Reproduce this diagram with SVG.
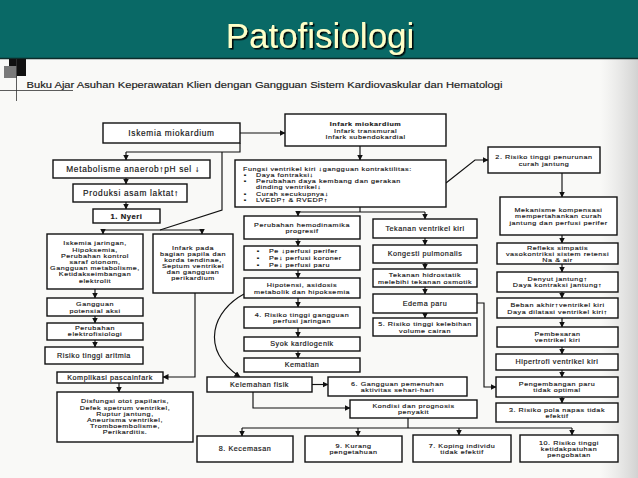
<svg xmlns="http://www.w3.org/2000/svg" width="638" height="478" viewBox="0 0 638 478">
<defs>
<style>
.box{fill:#fff;stroke:#111;stroke-width:1.4}
.t{font-family:'Liberation Sans',Arial,'DejaVu Sans',sans-serif;font-size:7.2px;letter-spacing:0.55px;fill:#161616;stroke:#161616;stroke-width:0.18;text-anchor:middle}
.tl{text-anchor:start}
.big{font-size:8.3px;letter-spacing:0.7px}
.b{font-weight:bold}
.ar{font-weight:bold}
.c{fill:none;stroke:#111;stroke-width:1.15}
.a{fill:none;stroke:#111;stroke-width:1.15;marker-end:url(#ah)}
</style>
<marker id="ah" markerUnits="userSpaceOnUse" markerWidth="6" markerHeight="6" refX="5.5" refY="3" orient="auto">
<path d="M0,0 L6,3 L0,6 z" fill="#111"/>
</marker>
<filter id="sh" x="-10%" y="-10%" width="120%" height="130%">
<feDropShadow dx="1.6" dy="1.6" stdDeviation="0.4" flood-color="#000" flood-opacity="0.9"/>
</filter>
<linearGradient id="edge" x1="0" y1="0" x2="1" y2="0">
<stop offset="0" stop-color="#d8d8d8" stop-opacity="0"/>
<stop offset="1" stop-color="#c8c8c8" stop-opacity="0.8"/>
</linearGradient>
</defs>

<rect x="0" y="0" width="638" height="478" fill="#f9f9f7"/>
<rect x="600" y="58" width="38" height="420" fill="url(#edge)"/>

<!-- header -->
<g id="header">
<rect x="0" y="0" width="638" height="58" fill="#096966"/>
<line x1="0" y1="58.5" x2="638" y2="58.5" stroke="#0e2c2b" stroke-width="1.5"/>
<text x="320" y="48" font-family="'Liberation Sans',Arial,sans-serif" font-size="35" fill="#ffffc8" text-anchor="middle" filter="url(#sh)">Patofisiologi</text>
<rect x="9" y="59" width="17" height="17" fill="#111"/>
<rect x="4" y="66" width="13" height="12" fill="#7a7a7a"/>
<line x1="16.5" y1="59" x2="16.5" y2="101" stroke="#333" stroke-width="0.8"/>
<line x1="0" y1="90.5" x2="73" y2="90.5" stroke="#333" stroke-width="0.8"/>
<text x="26.5" y="87.5" font-family="'Liberation Sans',Arial,sans-serif" font-size="8.5" fill="#1a1a1a" stroke="#1a1a1a" stroke-width="0.15" textLength="476" lengthAdjust="spacingAndGlyphs">Buku Ajar Asuhan Keperawatan Klien dengan Gangguan Sistem Kardiovaskular dan Hematologi</text>
</g>

<!-- connectors -->
<g id="connectors">
<path class="a" d="M240,133 L285,133"/>
<path class="c" d="M240,143 L240,152 L126,152"/>
<path class="a" d="M126,152 L126,160"/>
<path class="c" d="M222,152 L222,210 L160,230"/>
<path class="c" d="M103,230 L202,230"/>
<path class="a" d="M103,230 L103,234"/>
<path class="a" d="M202,230 L202,234"/>
<path class="a" d="M126,178 L126,184"/>
<path class="a" d="M126,202 L126,209"/>
<path class="a" d="M360,146 L360,160"/>
<path class="a" d="M446,183 L475,160 L488,160"/>
<path class="c" d="M360,207 L360,212"/>
<path class="c" d="M298,212 L425,212"/>
<path class="a" d="M298,212 L298,216"/>
<path class="a" d="M425,212 L425,219"/>
<path class="a" d="M562,173 L562,197"/>
<path class="a" d="M562,235 L562,243"/>
<path class="a" d="M562,264 L562,272"/>
<path class="a" d="M562,292 L562,298"/>
<path class="a" d="M562,318 L562,327"/>
<path class="a" d="M562,347 L562,354"/>
<path class="a" d="M562,370 L562,377"/>
<path class="a" d="M562,397 L562,403"/>
<path class="a" d="M477,303 L484,303 L484,387 L496,387"/>
<path class="a" d="M425,238 L425,245"/>
<path class="a" d="M425,263 L425,269"/>
<path class="a" d="M425,287 L425,294"/>
<path class="a" d="M425,313 L425,318"/>
<path class="a" d="M298,239 L298,246"/>
<path class="a" d="M298,270 L298,278"/>
<path class="a" d="M298,298 L298,307"/>
<path class="a" d="M298,328 L298,337"/>
<path class="a" d="M298,351 L298,358"/>
<path class="a" d="M244,294 C214,310 198,348 240,377"/>
<path class="a" d="M195,293 L195,377 L163,377"/>
<path class="a" d="M119,383 L119,392"/>
<path class="a" d="M95,289 L95,298"/>
<path class="a" d="M95,316 L95,323"/>
<path class="a" d="M95,340 L95,347"/>
<path class="a" d="M312,384.5 L328,384.5"/>
<path class="a" d="M253,392 L253,408 L350,408"/>
<path class="c" d="M408,418 L408,428"/>
<path class="c" d="M242,428 L572,428"/>
<path class="a" d="M242,428 L242,436"/>
<path class="a" d="M358,428 L358,436"/>
<path class="a" d="M459,428 L459,435"/>
<path class="a" d="M572,428 L572,435"/>
</g>

<!-- nodes -->
<g id="n-iskemia"><rect class="box" x="103" y="123" width="137" height="20"/>
<text class="t big" x="171.5" y="135.9">Iskemia miokardium</text></g>

<g id="n-infark"><rect class="box" x="285" y="114" width="161" height="32"/>
<text class="t b" transform="translate(365.5,126.4) scale(1,0.76)">Infark miokardium</text>
<text class="t" transform="translate(365.5,132.6) scale(1,0.76)">Infark transmural</text>
<text class="t" transform="translate(365.5,138.8) scale(1,0.76)">Infark subendokardial</text></g>

<g id="n-metab"><rect class="box" x="53" y="160" width="157" height="18"/>
<text class="t big" x="133" y="171.9">Metabolisme anaerob<tspan class="ar">↑</tspan>pH sel <tspan class="ar">↓</tspan></text></g>

<g id="n-produksi"><rect class="box" x="73" y="184" width="114" height="18"/>
<text class="t big" x="131" y="195.9">Produksi asam laktat<tspan class="ar">↑</tspan></text></g>

<g id="n-nyeri"><rect class="box" x="93" y="209" width="67" height="14"/>
<text class="t b" x="126.5" y="218.8" style="font-size:7.6px">1. Nyeri</text></g>

<g id="n-fungsi"><rect class="box" x="235" y="160" width="211" height="47"/>
<text class="t tl" transform="translate(243,170.7) scale(1,0.76)">Fungsi ventrikel kiri <tspan class="ar">↓</tspan>gangguan kontraktilitas:</text>
<text class="t tl" transform="translate(244,176.9) scale(1,0.76)"><tspan x="0">▪</tspan><tspan x="12">Daya fontraksi<tspan class="ar">↓</tspan></tspan></text>
<text class="t tl" transform="translate(244,183.1) scale(1,0.76)"><tspan x="0">▪</tspan><tspan x="12">Perubahan daya kembang dan gerakan</tspan></text>
<text class="t tl" transform="translate(256,189.3) scale(1,0.76)">dinding ventrikel<tspan class="ar">↓</tspan></text>
<text class="t tl" transform="translate(244,195.5) scale(1,0.76)"><tspan x="0">▪</tspan><tspan x="12">Curah secukupnya<tspan class="ar">↓</tspan></tspan></text>
<text class="t tl" transform="translate(244,201.7) scale(1,0.76)"><tspan x="0">▪</tspan><tspan x="12">LVEDP<tspan class="ar">↑</tspan> &amp; RVEDP<tspan class="ar">↑</tspan></tspan></text></g>

<g id="n-risiko2"><rect class="box" x="488" y="147" width="112" height="26"/>
<text class="t" transform="translate(544,159.4) scale(1,0.76)">2. Risiko tinggi penurunan</text>
<text class="t" transform="translate(544,165.8) scale(1,0.76)">curah jantung</text></g>

<g id="n-mekanisme"><rect class="box" x="500" y="197" width="117" height="38"/>
<text class="t" transform="translate(558.5,212.2) scale(1,0.76)">Mekanisme kompensasi</text>
<text class="t" transform="translate(558.5,218.4) scale(1,0.76)">mempertahankan curah</text>
<text class="t" transform="translate(558.5,224.6) scale(1,0.76)">jantung dan perfusi perifer</text></g>

<g id="n-refleks"><rect class="box" x="497" y="243" width="121" height="21"/>
<text class="t" transform="translate(557.5,249.8) scale(1,0.76)">Refleks simpatis</text>
<text class="t" transform="translate(557.5,255.9) scale(1,0.76)">vasokontriksi sistem retensi</text>
<text class="t" transform="translate(557.5,262) scale(1,0.76)">Na &amp; air</text></g>

<g id="n-denyut"><rect class="box" x="497" y="272" width="121" height="20"/>
<text class="t" transform="translate(557.5,280.6) scale(1,0.76)">Denyut jantung<tspan class="ar">↑</tspan></text>
<text class="t" transform="translate(557.5,287.4) scale(1,0.76)">Daya kontraksi jantung<tspan class="ar">↑</tspan></text></g>

<g id="n-beban"><rect class="box" x="497" y="298" width="121" height="20"/>
<text class="t" transform="translate(557.5,307.4) scale(1,0.76)">Beban akhir<tspan class="ar">↑</tspan>ventrikel kiri</text>
<text class="t" transform="translate(557.5,313.6) scale(1,0.76)">Daya dilatasi ventrikel kiri<tspan class="ar">↑</tspan></text></g>

<g id="n-pembesaran"><rect class="box" x="497" y="327" width="121" height="20"/>
<text class="t" transform="translate(557.5,336.2) scale(1,0.76)">Pembesaran</text>
<text class="t" transform="translate(557.5,342.4) scale(1,0.76)">ventrikel kiri</text></g>

<g id="n-hipertrofi"><rect class="box" x="496" y="354" width="122" height="16"/>
<text class="t" transform="translate(557,364.3) scale(1,0.88)">Hipertrofi ventrikel kiri</text></g>

<g id="n-pengembangan"><rect class="box" x="496" y="377" width="122" height="20"/>
<text class="t" transform="translate(557,386.2) scale(1,0.76)">Pengembangan paru</text>
<text class="t" transform="translate(557,392.4) scale(1,0.76)">tidak optimal</text></g>

<g id="n-risiko3"><rect class="box" x="496" y="403" width="122" height="19"/>
<text class="t" transform="translate(557,411.9) scale(1,0.76)">3. Risiko pola napas tidak</text>
<text class="t" transform="translate(557,418.1) scale(1,0.76)">efektif</text></g>

<g id="n-risiko10"><rect class="box" x="520" y="435" width="98" height="27"/>
<text class="t" transform="translate(569,444.9) scale(1,0.76)">10. Risiko tinggi</text>
<text class="t" transform="translate(569,451.1) scale(1,0.76)">ketidakpatuhan</text>
<text class="t" transform="translate(569,457.3) scale(1,0.76)">pengobatan</text></g>

<g id="n-koping"><rect class="box" x="413" y="435" width="98" height="27"/>
<text class="t" transform="translate(462,447.7) scale(1,0.76)">7. Koping individu</text>
<text class="t" transform="translate(462,454.1) scale(1,0.76)">tidak efektif</text></g>

<g id="n-kurang"><rect class="box" x="305" y="436" width="97" height="26"/>
<text class="t" transform="translate(353.5,447.9) scale(1,0.76)">9. Kurang</text>
<text class="t" transform="translate(353.5,454.3) scale(1,0.76)">pengetahuan</text></g>

<g id="n-kecemasan"><rect class="box" x="197" y="436" width="96" height="26"/>
<text class="t" transform="translate(245,451.4) scale(1,0.88)">8. Kecemasan</text></g>

<g id="n-kondisi"><rect class="box" x="350" y="400" width="127" height="18"/>
<text class="t" transform="translate(413.5,408.2) scale(1,0.76)">Kondisi dan prognosis</text>
<text class="t" transform="translate(413.5,414.4) scale(1,0.76)">penyakit</text></g>

<g id="n-gangguan6"><rect class="box" x="328" y="377" width="139" height="19"/>
<text class="t" transform="translate(397.5,385.7) scale(1,0.76)">6. Gangguan pemenuhan</text>
<text class="t" transform="translate(397.5,391.9) scale(1,0.76)">aktivitas sehari-hari</text></g>

<g id="n-kelemahan"><rect class="box" x="207" y="377" width="105" height="15"/>
<text class="t" transform="translate(259.5,386.8) scale(1,0.88)">Kelemahan fisik</text></g>

<g id="n-kematian"><rect class="box" x="244" y="358" width="116" height="14"/>
<text class="t" transform="translate(302,367.3) scale(1,0.88)">Kematian</text></g>

<g id="n-syok"><rect class="box" x="244" y="337" width="116" height="14"/>
<text class="t" transform="translate(302,346.3) scale(1,0.88)">Syok kardiogenik</text></g>

<g id="n-risiko4"><rect class="box" x="244" y="307" width="116" height="21"/>
<text class="t" transform="translate(302,316.7) scale(1,0.76)">4. Risiko tinggi gangguan</text>
<text class="t" transform="translate(302,323.1) scale(1,0.76)">perfusi jaringan</text></g>

<g id="n-hipotensi"><rect class="box" x="244" y="278" width="116" height="20"/>
<text class="t" transform="translate(302,287.2) scale(1,0.76)">Hipotensi, asidosis</text>
<text class="t" transform="translate(302,293.6) scale(1,0.76)">metabolik dan hipoksemia</text></g>

<g id="n-pe"><rect class="box" x="244" y="246" width="116" height="24"/>
<text class="t tl" transform="translate(257,253.4) scale(1,0.76)"><tspan x="0">▪</tspan><tspan x="12">Pe <tspan class="ar">↓</tspan>perfusi perifer</tspan></text>
<text class="t tl" transform="translate(257,260.2) scale(1,0.76)"><tspan x="0">▪</tspan><tspan x="12">Pe<tspan class="ar">↓</tspan> perfusi koroner</tspan></text>
<text class="t tl" transform="translate(257,267) scale(1,0.76)"><tspan x="0">▪</tspan><tspan x="12">Pe<tspan class="ar">↓</tspan> perfusi paru</tspan></text></g>

<g id="n-hemodinamika"><rect class="box" x="244" y="216" width="116" height="23"/>
<text class="t" transform="translate(302,226.7) scale(1,0.76)">Perubahan hemodinamika</text>
<text class="t" transform="translate(302,233.3) scale(1,0.76)">progresif</text></g>

<g id="n-tekanan"><rect class="box" x="373" y="219" width="104" height="19"/>
<text class="t" transform="translate(425,230.8) scale(1,0.88)">Tekanan ventrikel kiri</text></g>

<g id="n-kongesti"><rect class="box" x="373" y="245" width="104" height="18"/>
<text class="t" transform="translate(425,256.3) scale(1,0.88)">Kongesti pulmonalis</text></g>

<g id="n-hidrostatik"><rect class="box" x="373" y="269" width="104" height="18"/>
<text class="t" transform="translate(425,277.2) scale(1,0.76)">Tekanan hidrostatik</text>
<text class="t" transform="translate(425,283.8) scale(1,0.76)">melebihi tekanan osmotik</text></g>

<g id="n-edema"><rect class="box" x="373" y="294" width="104" height="19"/>
<text class="t" transform="translate(425,305.8) scale(1,0.88)">Edema paru</text></g>

<g id="n-risiko5"><rect class="box" x="373" y="318" width="104" height="18"/>
<text class="t" transform="translate(425,326.3) scale(1,0.76)">5. Risiko tinggi kelebihan</text>
<text class="t" transform="translate(425,332.6) scale(1,0.76)">volume cairan</text></g>

<g id="n-iskjar"><rect class="box" x="47" y="234" width="96" height="55"/>
<text class="t" transform="translate(95,245.4) scale(1,0.76)">Iskemia jaringan,</text>
<text class="t" transform="translate(95,251.6) scale(1,0.76)">Hipoksemia,</text>
<text class="t" transform="translate(95,257.8) scale(1,0.76)">Perubahan kontrol</text>
<text class="t" transform="translate(95,264) scale(1,0.76)">saraf otonom,</text>
<text class="t" transform="translate(95,270.2) scale(1,0.76)">Gangguan metabolisme,</text>
<text class="t" transform="translate(95,276.4) scale(1,0.76)">Ketidakseimbangan</text>
<text class="t" transform="translate(95,282.6) scale(1,0.76)">elektrolit</text></g>

<g id="n-infpada"><rect class="box" x="153" y="234" width="80" height="59"/>
<text class="t" transform="translate(193,249.9) scale(1,0.76)">Infark pada</text>
<text class="t" transform="translate(193,256) scale(1,0.76)">bagian papila dan</text>
<text class="t" transform="translate(193,262.1) scale(1,0.76)">korda tendinae,</text>
<text class="t" transform="translate(193,268.2) scale(1,0.76)">Septum ventrikel</text>
<text class="t" transform="translate(193,274.3) scale(1,0.76)">dan gangguan</text>
<text class="t" transform="translate(193,280.4) scale(1,0.76)">perikardium</text></g>

<g id="n-potensial"><rect class="box" x="47" y="298" width="96" height="18"/>
<text class="t" transform="translate(95,306.4) scale(1,0.76)">Gangguan</text>
<text class="t" transform="translate(95,312.6) scale(1,0.76)">potensial aksi</text></g>

<g id="n-elektro"><rect class="box" x="47" y="323" width="96" height="17"/>
<text class="t" transform="translate(95,329.8) scale(1,0.76)">Perubahan</text>
<text class="t" transform="translate(95,336) scale(1,0.76)">elektrofisiologi</text></g>

<g id="n-aritmia"><rect class="box" x="45" y="347" width="98" height="17"/>
<text class="t" transform="translate(94,357.8) scale(1,0.88)">Risiko tinggi aritmia</text></g>

<g id="n-komplikasi"><rect class="box" x="57" y="372" width="106" height="11"/>
<text class="t" transform="translate(110,379.8) scale(1,0.88)">Komplikasi pascainfark</text></g>

<g id="n-disfungsi"><rect class="box" x="57" y="392" width="136" height="50"/>
<text class="t" transform="translate(125,403.4) scale(1,0.76)">Disfungsi otot papilaris,</text>
<text class="t" transform="translate(125,409.5) scale(1,0.76)">Defek spetrum ventrikel,</text>
<text class="t" transform="translate(125,415.6) scale(1,0.76)">Ruptur jantung,</text>
<text class="t" transform="translate(125,421.7) scale(1,0.76)">Aneurisma ventrikel,</text>
<text class="t" transform="translate(125,427.8) scale(1,0.76)">Tromboembolisme,</text>
<text class="t" transform="translate(125,433.9) scale(1,0.76)">Perikarditis.</text></g>
</svg>
